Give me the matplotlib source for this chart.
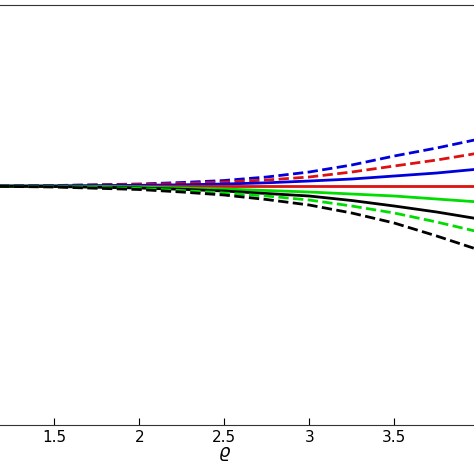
import matplotlib
matplotlib.use("Agg")
import matplotlib.pyplot as plt

rho = [1.0, 1.5, 2.0, 2.25, 2.5, 2.75, 3.0, 3.25, 3.5, 3.75, 4.0]
blue_dash  = [0, 0.5, 2, 3.5, 5.5, 9, 14, 21, 30, 38, 47]
red_dash   = [0, 0.4, 1.5, 2.5, 4, 6, 9, 14, 20, 26, 33]
blue_solid = [0, 0.2, 0.7, 1.2, 2, 3.2, 5, 7, 10, 13, 17]
red_solid  = [0, 0, 0, 0, 0, 0, 0, 0, 0, 0, 0]
green_solid= [0, -0.3, -1, -2, -3, -4.5, -6, -8, -10, -13, -16]
black_solid= [0, -0.5, -2, -3.3, -5, -7.5, -10, -14.5, -20, -26, -33]
green_dash = [0, -0.6, -2.5, -4.5, -7, -10, -14, -20, -27, -36, -46]
black_dash = [0, -1, -3.5, -6, -9, -13.5, -19, -27, -37, -50, -64]

fig = plt.figure(figsize=(4.74, 4.74), dpi=100)
ax = fig.add_axes([-0.065, 0.1034, 1.076, 0.886])
ax.plot(rho, blue_dash, color='#0000dd', ls='--', lw=2)
ax.plot(rho, red_dash, color='#dd1111', ls='--', lw=2)
ax.plot(rho, blue_solid, color='#0000dd', lw=2)
ax.plot(rho, red_solid, color='#dd1111', lw=2)
ax.plot(rho, green_solid, color='#00dd00', lw=2)
ax.plot(rho, black_solid, color='black', lw=2)
ax.plot(rho, green_dash, color='#00dd00', ls='--', lw=2)
ax.plot(rho, black_dash, color='black', ls='--', lw=2)
ax.set_xlim(1, 4)
ax.set_ylim(-239, 181)
ax.set_xticks([1.5, 2, 2.5, 3, 3.5])
ax.set_xticklabels(['1.5', '2', '2.5', '3', '3.5'])
ax.set_yticks([])
ax.tick_params(axis='x', direction='in', labelsize=11, length=5)
ax.set_xlabel(r'$\varrho$', fontsize=13, labelpad=0)
for s in ax.spines.values():
    s.set_color('#333333')
fig.savefig('out.png', dpi=100)
